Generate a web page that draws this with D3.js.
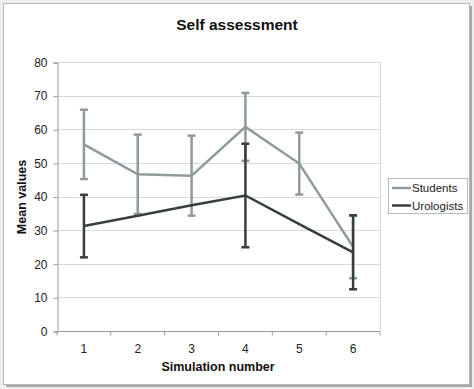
<!DOCTYPE html>
<html>
<head>
<meta charset="utf-8">
<script src="https://cdn.jsdelivr.net/npm/d3@7"></script>
<style>
  body { margin: 0; background: #eeeeee; }
  svg { display: block; font-family: "Liberation Sans", Arial, sans-serif; }
</style>
</head>
<body>
<svg width="474" height="389"></svg>
<script>
// data
var simulations = [1, 2, 3, 4, 5, 6];
var studentsMean = [55.5, 46.6, 46.2, 60.7, 49.8, 25.0];
var studentsErr  = [10.3, 11.8, 11.9, 10.1, 9.2, 9.3];
var urologistsMean = [31.2, 34.3, 37.4, 40.3, 31.8, 23.4];
var urologistsErr  = [9.3, null, null, 15.4, null, 11.0];
var yTicks = [0, 10, 20, 30, 40, 50, 60, 70, 80];

var pic = d3.select("svg");

// plot box (note: "top" is taken by window.top, so prefix these)
var plotLeft = 57, plotRight = 380, plotTop = 62, plotBottom = 331;

// outer frame with a little shadow
pic.append("rect").attr("x", 6).attr("y", 6).attr("width", 466).attr("height", 381)
  .attr("fill", "#a8a8a8");
pic.append("rect").attr("x", 3.5).attr("y", 3.5).attr("width", 466).attr("height", 381)
  .attr("fill", "#ffffff").attr("stroke", "#b5b5b5");

var x = d3.scaleBand().domain(simulations).range([plotLeft, plotRight]);
var y = d3.scaleLinear().domain([0, 80]).range([plotBottom, plotTop]);
var cx = function(d){ return x(d) + x.bandwidth() / 2; };

// gridlines
pic.append("g").selectAll("line").data(yTicks.slice(1)).enter().append("line")
  .attr("x1", plotLeft).attr("x2", plotRight)
  .attr("y1", function(d){ return Math.round(y(d)) + 0.5; })
  .attr("y2", function(d){ return Math.round(y(d)) + 0.5; })
  .attr("stroke", "#d9d9d9").attr("stroke-width", 1.2);
pic.append("line").attr("x1", plotRight + 0.5).attr("x2", plotRight + 0.5)
  .attr("y1", plotTop).attr("y2", plotBottom)
  .attr("stroke", "#d9d9d9").attr("stroke-width", 1.2);

// y axis
var yAxis = pic.append("g").attr("transform", "translate(" + (plotLeft + 0.5) + ",0.5)")
  .call(d3.axisLeft(y).tickValues(yTicks).tickSize(4).tickPadding(6));
yAxis.select(".domain").attr("stroke", "#9a9a9a");
yAxis.selectAll(".tick line").attr("stroke", "#9a9a9a");
yAxis.selectAll("text").attr("font-size", 12).attr("fill", "#222");

// x axis: ticks on band edges, labels at centres
var xAxis = pic.append("g").attr("transform", "translate(0," + (plotBottom + 0.5) + ")");
xAxis.append("line").attr("x1", plotLeft).attr("x2", plotRight).attr("stroke", "#9a9a9a");
xAxis.selectAll(".edge").data(simulations.concat([7])).enter().append("line")
  .attr("x1", function(d){ return d <= 6 ? x(d) : plotRight; })
  .attr("x2", function(d){ return d <= 6 ? x(d) : plotRight; })
  .attr("y1", 0).attr("y2", 4).attr("stroke", "#9a9a9a");
xAxis.selectAll("text").data(simulations).enter().append("text")
  .attr("x", cx).attr("y", 21).attr("text-anchor", "middle")
  .attr("font-size", 12).attr("fill", "#222")
  .text(function(d){ return d; });

// titles
pic.append("text").attr("x", 237).attr("y", 30).attr("text-anchor", "middle")
  .attr("font-size", 15.5).attr("font-weight", "bold").attr("fill", "#111")
  .text("Self assessment");
pic.append("text").attr("x", 218).attr("y", 371).attr("text-anchor", "middle")
  .attr("font-size", 12.5).attr("font-weight", "bold").attr("fill", "#111")
  .text("Simulation number");
pic.append("text").attr("transform", "translate(26,197) rotate(-90)").attr("text-anchor", "middle")
  .attr("font-size", 12.5).attr("font-weight", "bold").attr("fill", "#111")
  .text("Mean values");

// series
var series = [
  { name: "Students", mean: studentsMean, err: studentsErr, color: "#8e9a9b" },
  { name: "Urologists", mean: urologistsMean, err: urologistsErr, color: "#353f42" }
];

var line = d3.line()
  .x(function(d){ return cx(d.s); })
  .y(function(d){ return y(d.v); });

series.forEach(function(sr){
  var pts = simulations.map(function(s, i){ return { s: s, v: sr.mean[i], e: sr.err[i] }; });
  var g = pic.append("g");
  var bars = pts.filter(function(d){ return d.e != null; });
  g.selectAll(".bar").data(bars).enter().append("line")
    .attr("x1", function(d){ return cx(d.s); }).attr("x2", function(d){ return cx(d.s); })
    .attr("y1", function(d){ return y(d.v + d.e); }).attr("y2", function(d){ return y(d.v - d.e); })
    .attr("stroke", sr.color).attr("stroke-width", 2.5);
  [1, -1].forEach(function(sign){
    g.selectAll(".cap" + sign).data(bars).enter().append("line")
      .attr("x1", function(d){ return cx(d.s) - 4; }).attr("x2", function(d){ return cx(d.s) + 4; })
      .attr("y1", function(d){ return y(d.v + sign * d.e); })
      .attr("y2", function(d){ return y(d.v + sign * d.e); })
      .attr("stroke", sr.color).attr("stroke-width", 2.5);
  });
  g.append("path").datum(pts).attr("d", line)
    .attr("fill", "none").attr("stroke", sr.color).attr("stroke-width", 2.5);
});

// legend
var lg = pic.append("g").attr("transform", "translate(388,178)");
lg.append("rect").attr("x", 0.5).attr("y", 0.5).attr("width", 79).attr("height", 35)
  .attr("fill", "#fff").attr("stroke", "#b8b8b8");
series.forEach(function(sr, i){
  var yy = 10 + i * 17.5;
  lg.append("line").attr("x1", 4).attr("x2", 23).attr("y1", yy).attr("y2", yy)
    .attr("stroke", sr.color).attr("stroke-width", 2.5);
  lg.append("text").attr("x", 24).attr("y", yy + 4).attr("font-size", 11.5).attr("fill", "#222")
    .text(sr.name);
});
</script>
</body>
</html>
